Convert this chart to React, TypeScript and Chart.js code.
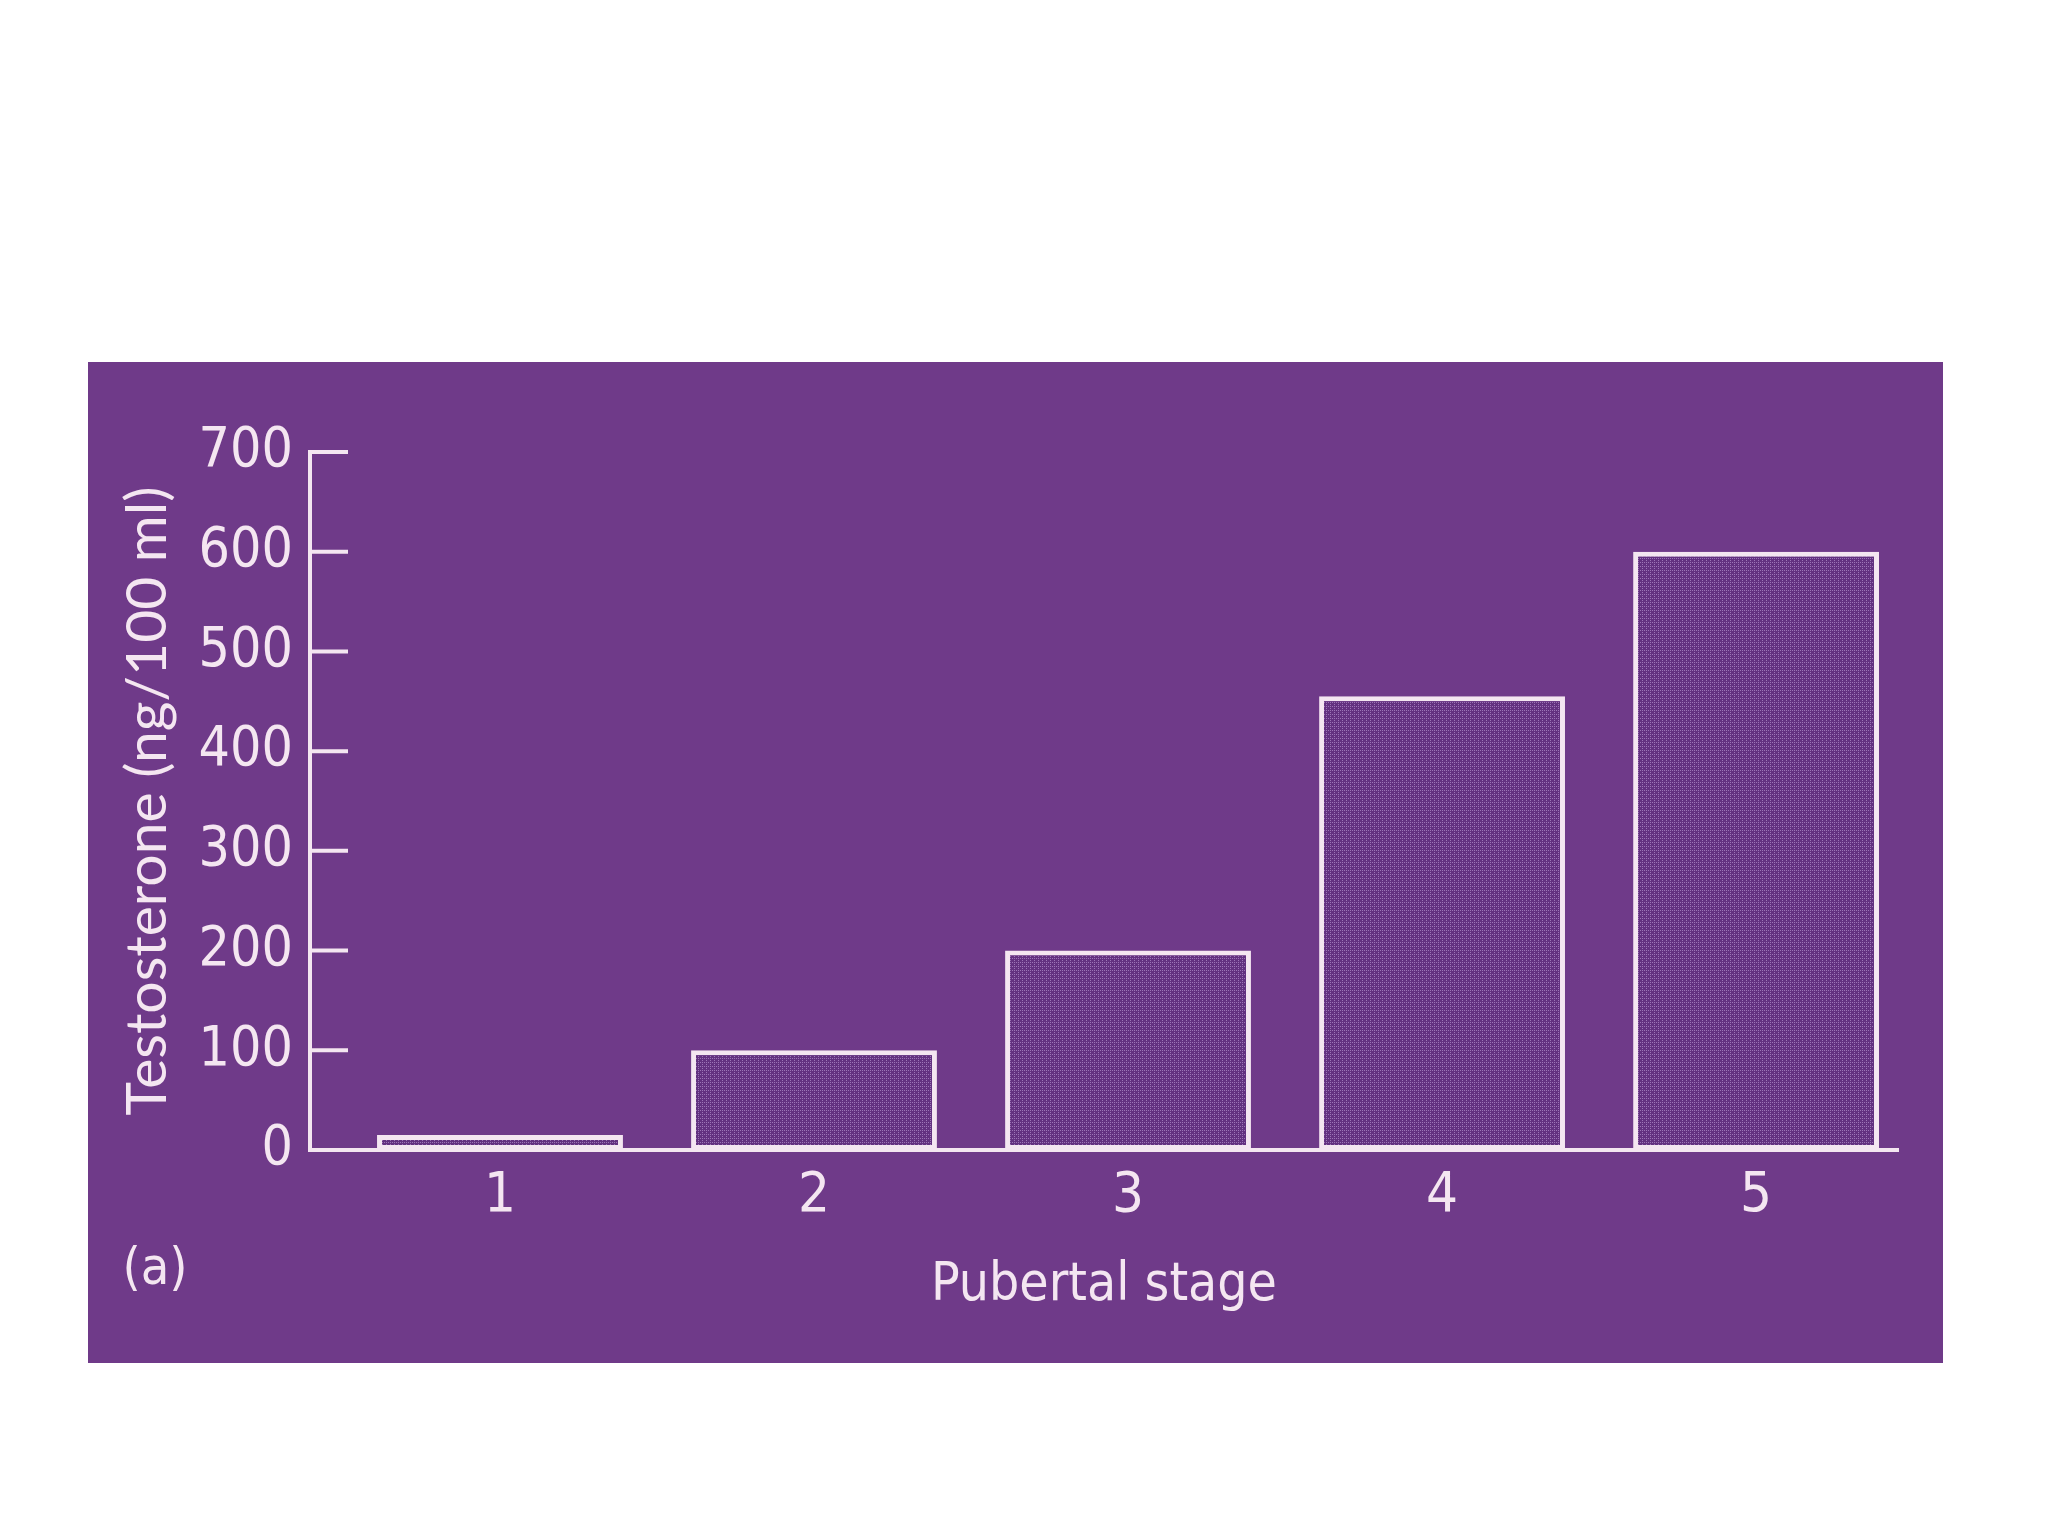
import React, { useEffect, useRef } from 'react'
import { Chart, registerables } from 'chart.js'

Chart.register(...registerables)

const stages = [1, 2, 3, 4, 5]
const testosterone = [15, 100, 200, 455, 600]
const yTicks = [0, 100, 200, 300, 400, 500, 600, 700]
const yTitle = 'Testosterone (ng/100 ml)'
const xTitle = 'Pubertal stage'
const panelLabel = '(a)'

const INK = '#f4e6f1'
const PURPLE = '#6f3a89'
const NARROW = "'Liberation Sans Narrow', 'DejaVu Sans Condensed', sans-serif"

// screen-print style dotted fill for the bars
function dotPattern(): CanvasPattern | string {
  const c = document.createElement('canvas')
  c.width = 4
  c.height = 4
  const g = c.getContext('2d')
  if (!g) return '#663483'
  g.fillStyle = '#633180'
  g.fillRect(0, 0, 4, 4)
  g.fillStyle = '#9c74b6'
  g.fillRect(0, 0, 1, 1)
  g.fillRect(2, 2, 1, 1)
  g.fillRect(2, 0, 1, 1)
  return g.createPattern(c, 'repeat') || '#663483'
}

const inkPlugin = {
  id: 'ink',
  afterDraw(chart: any) {
    const { ctx, chartArea, scales } = chart
    ctx.save()
    ctx.strokeStyle = INK
    ctx.lineWidth = 4
    // tick marks point into the plot, as in the original figure
    yTicks.forEach((v) => {
      const y = scales.y.getPixelForValue(v)
      ctx.beginPath()
      ctx.moveTo(chartArea.left, y)
      ctx.lineTo(chartArea.left + 38, y)
      ctx.stroke()
    })
    ctx.fillStyle = INK
    ctx.font = `52px ${NARROW}`
    ctx.textAlign = 'center'
    ctx.textBaseline = 'middle'
    ctx.fillText(panelLabel, 67, 908)
    ctx.restore()
  },
}

export default function App() {
  const canvasRef = useRef<HTMLCanvasElement>(null)
  const chartRef = useRef<Chart | null>(null)

  useEffect(() => {
    if (chartRef.current) { chartRef.current.destroy(); chartRef.current = null }
    if (!canvasRef.current) return
    const ctx = canvasRef.current.getContext('2d')
    if (!ctx) return

    chartRef.current = new Chart(ctx, {
      type: 'bar',
      data: {
        datasets: [{
          label: yTitle,
          data: stages.map((s, i) => ({ x: s, y: testosterone[i] })),
          backgroundColor: dotPattern(),
          borderColor: INK,
          borderWidth: 5,
          borderSkipped: false,
          barPercentage: 0.783,
          categoryPercentage: 1,
        }],
      },
      options: {
        animation: false,
        responsive: true,
        maintainAspectRatio: false,
        layout: { padding: { top: 90, right: 45, left: 0, bottom: 0 } },
        plugins: { legend: { display: false }, tooltip: { enabled: false } },
        scales: {
          x: {
            type: 'linear',
            min: 0.395,
            max: 5.452,
            offset: false,
            grid: { display: false, drawTicks: false, offset: false },
            border: { display: true, color: INK, width: 4 },
            afterBuildTicks: (s: any) => { s.ticks = stages.map((v) => ({ value: v })) },
            afterFit: (s: any) => { s.height = 213 },
            ticks: { color: INK, padding: 13, autoSkip: false, maxRotation: 0, font: { family: NARROW, size: 56 } },
            title: { display: true, text: xTitle, color: INK, font: { family: NARROW, size: 53 }, padding: { top: 0, bottom: 45 } },
          },
          y: {
            min: 0,
            max: 700,
            grid: { display: false, drawTicks: false },
            border: { display: true, color: INK, width: 4 },
            afterBuildTicks: (s: any) => { s.ticks = yTicks.map((v) => ({ value: v })) },
            afterFit: (s: any) => { s.width = 222 },
            ticks: { color: INK, padding: 17, font: { family: NARROW, size: 55 } },
            title: { display: true, text: yTitle, color: INK, font: { family: 'Lato', size: 57 }, padding: { top: 25, bottom: 0 } },
          },
        },
      },
      plugins: [inkPlugin],
    })

    return () => { if (chartRef.current) { chartRef.current.destroy(); chartRef.current = null } }
  }, [])

  return (
    <div style={{ position: 'absolute', left: 88, top: 362, width: 1855, height: 1001, background: PURPLE }}>
      <canvas ref={canvasRef} />
    </div>
  )
}
